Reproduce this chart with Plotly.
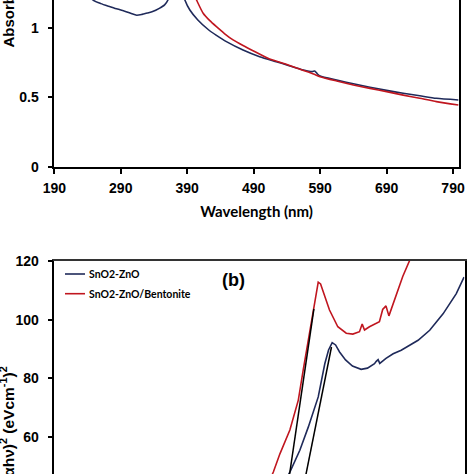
import plotly.graph_objects as go

W, H = 474, 474

# ---- Panel (a): absorbance vs wavelength ----
wl_blue = [235, 248, 260, 274, 285, 296, 305, 314, 322, 330, 338, 348, 356, 361, 366, 372, 378, 383,
           386.5, 394, 406, 422, 434, 449, 474, 499, 524, 540, 565, 578, 582, 586, 590, 615, 640,
           665, 690, 715, 740, 765, 798]
abs_blue = [1.28, 1.198, 1.172, 1.150, 1.133, 1.118, 1.103, 1.089, 1.095, 1.105, 1.115, 1.138, 1.163,
            1.198, 1.30, 1.42, 1.38, 1.26, 1.198, 1.126, 1.055, 0.985, 0.945, 0.900, 0.840, 0.792,
            0.756, 0.733, 0.697, 0.685, 0.690, 0.668, 0.654, 0.625, 0.598, 0.573, 0.551, 0.530, 0.512,
            0.494, 0.482]
wl_red = [385, 395, 404, 414, 424, 434, 446, 459, 474, 489, 514, 527, 540, 565, 580, 590, 615, 640,
          665, 690, 715, 740, 765, 798]
abs_red = [1.45, 1.29, 1.198, 1.103, 1.05, 1.007, 0.958, 0.912, 0.872, 0.835, 0.775, 0.756, 0.736,
           0.694, 0.668, 0.649, 0.618, 0.590, 0.565, 0.542, 0.517, 0.494, 0.470, 0.446]

# ---- Panel (b): (alpha h nu)^2 vs photon energy ----
e_blue = [2.70, 2.90, 3.010, 3.095, 3.167, 3.252, 3.308, 3.340, 3.371, 3.400, 3.434, 3.485, 3.544,
          3.618, 3.672, 3.732, 3.747, 3.763, 3.777, 3.830, 3.891, 3.960, 4.032, 4.104, 4.203, 4.317,
          4.430, 4.496]
v_blue = [28, 40, 48.1, 55.5, 63.4, 73.7, 85.0, 89.7, 92.2, 91.4, 89.0, 86.3, 84.2,
          83.1, 83.5, 85.0, 85.8, 86.4, 85.1, 86.8, 88.4, 89.6, 91.3, 93.0, 96.4, 102.0,
          108.9, 114.5]
e_red = [2.65, 2.80, 2.869, 2.925, 3.010, 3.082, 3.124, 3.169, 3.215, 3.233, 3.252, 3.272, 3.291,
         3.348, 3.419, 3.491, 3.547, 3.604, 3.627, 3.647, 3.689, 3.774, 3.802, 3.830, 3.855, 3.902,
         3.973, 4.032, 4.115]
v_red = [30, 42, 48.1, 54.3, 62.4, 72.6, 82.9, 93.1, 103.7, 108.4, 112.8, 112.2, 110.1,
         103.3, 97.6, 95.4, 95.1, 95.9, 98.5, 96.5, 97.6, 99.3, 103.5, 104.7, 101.3, 106.7,
         114.7, 120.2, 128.9]
# tangent (Tauc) lines
tan_red_e = [2.833, 3.215]
tan_red_v = [0, 103.7]
tan_blue_e = [2.91, 3.365]
tan_blue_v = [0, 90.7]

series_names = ["SnO2-ZnO", "SnO2-ZnO/Bentonite"]
BLUE = "#1f2a5a"
RED = "#c0161f"

fig = go.Figure()
fig.add_trace(go.Scatter(x=wl_blue, y=abs_blue, mode="lines",
                         line=dict(color=BLUE, width=1.6, shape="spline", smoothing=0.6),
                         xaxis="x", yaxis="y", showlegend=False))
fig.add_trace(go.Scatter(x=wl_red, y=abs_red, mode="lines",
                         line=dict(color=RED, width=1.6, shape="spline", smoothing=0.6),
                         xaxis="x", yaxis="y", showlegend=False))
fig.add_trace(go.Scatter(x=e_blue, y=v_blue, mode="lines", line=dict(color=BLUE, width=1.6),
                         xaxis="x2", yaxis="y2", name=series_names[0], showlegend=False))
fig.add_trace(go.Scatter(x=e_red, y=v_red, mode="lines", line=dict(color=RED, width=1.6),
                         xaxis="x2", yaxis="y2", name=series_names[1], showlegend=False))
fig.add_trace(go.Scatter(x=tan_red_e, y=tan_red_v, mode="lines", line=dict(color="black", width=1.5),
                         xaxis="x2", yaxis="y2", showlegend=False))
fig.add_trace(go.Scatter(x=tan_blue_e, y=tan_blue_v, mode="lines", line=dict(color="black", width=1.5),
                         xaxis="x2", yaxis="y2", showlegend=False))

tickf = dict(family="Liberation Sans, Arial", size=14, color="black", weight="bold")

def px_x(p):
    return p / W

def px_y(p):
    return 1 - p / H

fig.update_layout(
    width=W, height=H, autosize=False,
    margin=dict(l=0, r=0, t=0, b=0, pad=0),
    paper_bgcolor="white", plot_bgcolor="white",
    showlegend=False,
    xaxis=dict(domain=[px_x(54.3), px_x(459)], range=[190, 799], tick0=190, dtick=100,
               showline=True, linecolor="black", linewidth=1.5, ticks="outside", ticklen=5,
               tickwidth=1.5, tickcolor="black", tickfont=tickf, showgrid=False, zeroline=False,
               ticklabelstandoff=2, anchor="y", automargin=False,
               title=dict(text="Wavelength (nm)", standoff=12,
                          font=dict(family="Lato", size=15, color="black", weight="bold"))),
    yaxis=dict(domain=[px_y(167.3), 1], range=[0, 1.198], tick0=0, dtick=0.5,
               showline=True, mirror=True, linecolor="black", linewidth=1.5, ticks="outside",
               ticklen=5, tickwidth=1.5, tickcolor="black", tickfont=tickf, showgrid=False,
               zeroline=False, ticklabelstandoff=6, anchor="x", automargin=False),
    xaxis2=dict(domain=[px_x(54.3), px_x(464.5)], range=[1, 4.5], side="top", showline=True,
                linecolor="#333333", linewidth=1.5, ticks="", showticklabels=False,
                showgrid=False, zeroline=False, anchor="y2", automargin=False),
    yaxis2=dict(domain=[0, px_y(261)], range=[47.43, 120], tick0=0, dtick=20,
                showline=True, mirror=True, linecolor="black", linewidth=1.5, ticks="outside",
                ticklen=5, tickwidth=1.5, tickcolor="black", tickfont=tickf, showgrid=False,
                zeroline=False, ticklabelstandoff=6, anchor="x2", automargin=False),
)

ann = [
    dict(text="Absorbance", x=px_x(8), y=px_y(50), xref="paper", yref="paper", xanchor="center",
         yanchor="bottom", textangle=-90, showarrow=False,
         font=dict(family="Liberation Sans, Arial", size=15, color="black", weight="bold")),
    dict(text="(αhν)<sup>2</sup> (eVcm<sup>-1</sup>)<sup>2</sup>", x=px_x(7), y=px_y(364),
         xref="paper", yref="paper", xanchor="center", yanchor="top", textangle=-90,
         showarrow=False,
         font=dict(family="Liberation Sans, Arial", size=15.5, color="black", weight="bold")),
    dict(text="(b)", x=px_x(233), y=px_y(280), xref="paper", yref="paper", xanchor="center",
         yanchor="middle", showarrow=False,
         font=dict(family="Liberation Sans, Arial", size=18, color="black", weight="bold")),
]
leg_y = [274, 293.7]
leg_col = [BLUE, RED]
shapes = []
for name, yy, col in zip(series_names, leg_y, leg_col):
    ann.append(dict(text=name, x=px_x(87), y=px_y(yy), xref="paper", yref="paper",
                    xanchor="left", yanchor="middle", showarrow=False,
                    font=dict(family="Lato", size=10.5, color="black", weight="bold")))
    shapes.append(dict(type="line", xref="paper", yref="paper", x0=px_x(65), x1=px_x(85),
                       y0=px_y(yy), y1=px_y(yy), line=dict(color=col, width=1.6)))
fig.update_layout(annotations=ann, shapes=shapes)

fig.write_html("out.html")
